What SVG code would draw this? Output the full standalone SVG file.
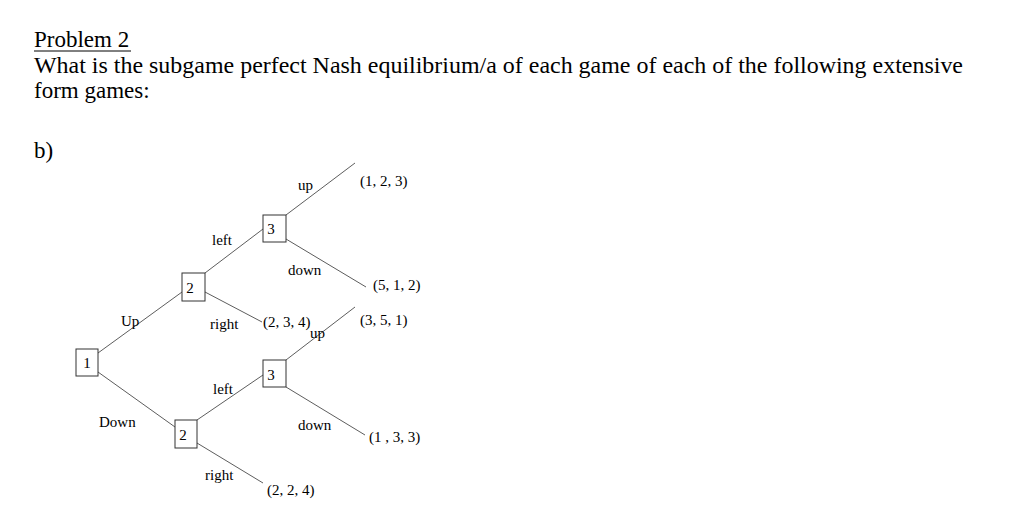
<svg xmlns="http://www.w3.org/2000/svg" width="1023" height="507" viewBox="0 0 1023 507">
<style>
text{font-family:"Liberation Serif",serif;fill:#000}
.h{font-size:23px}
.t{font-size:15px}
.n{fill:#fff;stroke:#333;stroke-width:1}
.e{stroke:#333;stroke-width:0.8;fill:none}
</style>
<rect width="1023" height="507" fill="#fff"/>
<text class="h" x="34" y="47">Problem 2</text>
<line x1="34" y1="51" x2="131" y2="51" stroke="#000" stroke-width="1"/>
<text class="h" x="34" y="73" textLength="929" lengthAdjust="spacingAndGlyphs">What is the subgame perfect Nash equilibrium/a of each game of each of the following extensive</text>
<text class="h" x="34" y="98">form games:</text>
<text class="h" x="34" y="158">b)</text>
<g id="connectors">
<line class="e" x1="98" y1="353" x2="182" y2="292"/>
<line class="e" x1="98" y1="372" x2="175" y2="427"/>
<line class="e" x1="205" y1="273" x2="263" y2="229"/>
<line class="e" x1="205" y1="292" x2="262" y2="322"/>
<line class="e" x1="286" y1="215" x2="355" y2="163"/>
<line class="e" x1="286" y1="239" x2="366" y2="287"/>
<line class="e" x1="197" y1="420" x2="263" y2="375"/>
<line class="e" x1="197" y1="443" x2="263" y2="483"/>
<line class="e" x1="286" y1="360" x2="355" y2="307"/>
<line class="e" x1="286" y1="387" x2="365" y2="435"/>
</g>
<g id="n1"><rect class="n" x="76" y="349" width="22" height="27"/><text class="t" x="87" y="368" text-anchor="middle">1</text></g>
<g id="n2a"><rect class="n" x="182" y="273" width="23" height="28"/><text class="t" x="190" y="293" text-anchor="middle">2</text></g>
<g id="n3a"><rect class="n" x="263" y="215" width="23" height="27"/><text class="t" x="271" y="234" text-anchor="middle">3</text></g>
<g id="n2b"><rect class="n" x="175" y="420" width="22" height="28"/><text class="t" x="183" y="440" text-anchor="middle">2</text></g>
<g id="n3b"><rect class="n" x="263" y="360" width="23" height="27"/><text class="t" x="271" y="380" text-anchor="middle">3</text></g>
<g id="labels" class="t">
<text class="t" x="298" y="190">up</text>
<text class="t" x="360" y="186">(1, 2, 3)</text>
<text class="t" x="212" y="245">left</text>
<text class="t" x="288" y="275">down</text>
<text class="t" x="373" y="290">(5, 1, 2)</text>
<text class="t" x="121" y="326">Up</text>
<text class="t" x="210" y="329">right</text>
<text class="t" x="263" y="327">(2, 3, 4)</text>
<text class="t" x="310" y="338">up</text>
<text class="t" x="360" y="325">(3, 5, 1)</text>
<text class="t" x="213" y="394">left</text>
<text class="t" x="99" y="427">Down</text>
<text class="t" x="298" y="430">down</text>
<text class="t" x="369" y="442">(1 , 3, 3)</text>
<text class="t" x="205" y="480">right</text>
<text class="t" x="267" y="495">(2, 2, 4)</text>
</g>
</svg>
